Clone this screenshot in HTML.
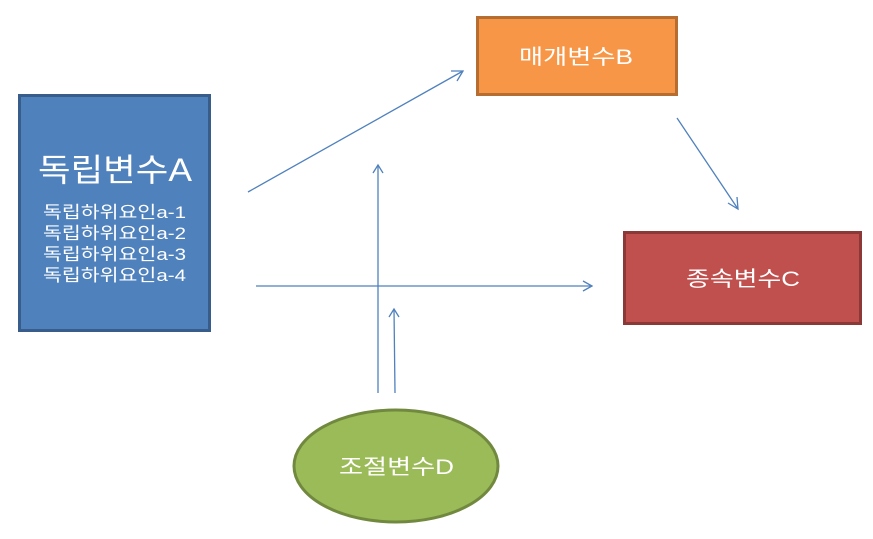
<!DOCTYPE html>
<html><head><meta charset="utf-8"><style>
body{margin:0;width:873px;height:539px;background:#fff;overflow:hidden;font-family:"Liberation Sans","Noto Sans CJK KR",sans-serif;}
</style></head><body>
<svg width="873" height="539" xmlns="http://www.w3.org/2000/svg" style="position:absolute;left:0;top:0">
<rect x="19.5" y="95.5" width="190" height="235" fill="#4f81bd" stroke="#385d8a" stroke-width="3"/>
<rect x="477.5" y="17.5" width="199" height="77" fill="#f79646" stroke="#b66d31" stroke-width="3"/>
<rect x="624.5" y="232.5" width="236" height="91" fill="#c0504d" stroke="#8c3836" stroke-width="3"/>
<ellipse cx="396" cy="466" rx="102" ry="56" fill="#9bbb59" stroke="#71893f" stroke-width="3"/>
<g stroke="#4f81bd" stroke-width="1.3" fill="none">
<line x1="248" y1="192" x2="463" y2="71"/><polyline points="451,71 463,71 457,81"/>
<line x1="677" y1="118" x2="738" y2="209"/><polyline points="737,197 738,209 728,203"/>
<line x1="256" y1="286" x2="592" y2="286"/><polyline points="583,281 592,286 583,291"/>
<line x1="378" y1="393" x2="378" y2="165"/><polyline points="373,173 378,165 383,173"/>
<line x1="395" y1="393" x2="394" y2="309"/><polyline points="389,317 394,309 399,317"/>
</g>
<g fill="#fff" font-family="Liberation Sans, Noto Sans CJK KR, sans-serif">
<text x="38" y="181" font-size="32" textLength="154" lengthAdjust="spacingAndGlyphs">독립변수A</text>
<text x="43" y="218" font-size="17" textLength="143" lengthAdjust="spacingAndGlyphs">독립하위요인a-1</text>
<text x="43" y="239" font-size="17" textLength="143" lengthAdjust="spacingAndGlyphs">독립하위요인a-2</text>
<text x="43" y="260" font-size="17" textLength="143" lengthAdjust="spacingAndGlyphs">독립하위요인a-3</text>
<text x="43" y="281" font-size="17" textLength="143" lengthAdjust="spacingAndGlyphs">독립하위요인a-4</text>
<text x="519" y="64" font-size="21" textLength="114" lengthAdjust="spacingAndGlyphs">매개변수B</text>
<text x="686" y="286" font-size="21" textLength="114" lengthAdjust="spacingAndGlyphs">종속변수C</text>
<text x="339" y="474" font-size="21" textLength="115" lengthAdjust="spacingAndGlyphs">조절변수D</text>
</g>
</svg>
</body></html>
